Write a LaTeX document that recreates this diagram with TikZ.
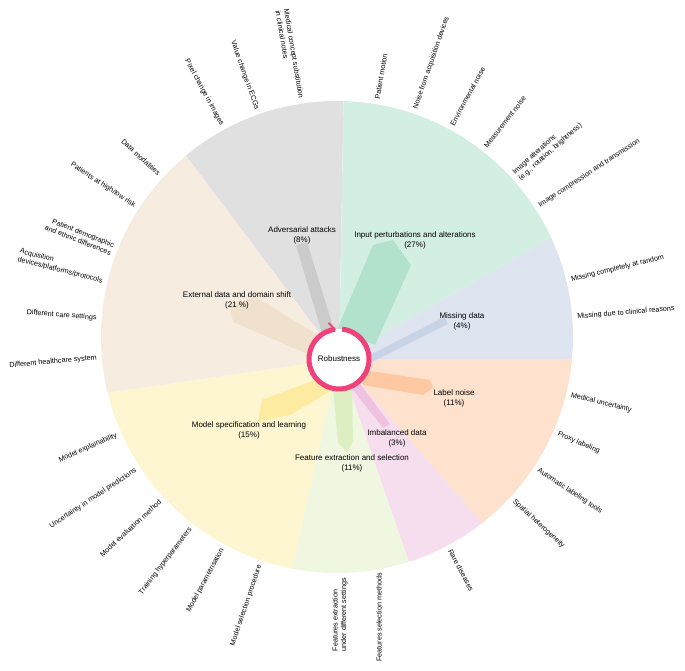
\documentclass[tikz,border=0pt]{standalone}
\usepackage{fontspec}
\setmainfont{Liberation Sans}
\usetikzlibrary{arrows.meta,calc}
\definecolor{sGray}{HTML}{E0E0E0}\definecolor{aGray}{HTML}{CBCBCB}
\definecolor{sGreen}{HTML}{D3EFE2}\definecolor{aGreen}{HTML}{B2E2CC}
\definecolor{sBlue}{HTML}{DFE4F1}\definecolor{aBlue}{HTML}{C9D3E6}
\definecolor{sOrange}{HTML}{FEE2CE}\definecolor{aOrange}{HTML}{FDC8A2}
\definecolor{sPink}{HTML}{F6DEEE}\definecolor{aPink}{HTML}{EFC3E0}
\definecolor{sLGreen}{HTML}{EFF7E0}\definecolor{aLGreen}{HTML}{DDEFC2}
\definecolor{sYellow}{HTML}{FEF6D1}\definecolor{aYellow}{HTML}{FCEBA0}
\definecolor{sBeige}{HTML}{F6ECE0}\definecolor{aBeige}{HTML}{EFE1CB}
\definecolor{robust}{HTML}{F0417A}
\tikzset{
 inlab/.style={font=\fontsize{8}{10}\selectfont, align=center, inner sep=1pt},
 outR/.style={font=\fontsize{7.2}{8.6}\selectfont, anchor=west, inner sep=0pt, align=left},
 outL/.style={font=\fontsize{7.2}{8.6}\selectfont, anchor=east, inner sep=0pt},
}
\newcommand{\sector}[3]{\fill[#1] (P) -- ($(P)+(#2:420)$) arc[start angle=#2, end angle=#3, radius=420] -- cycle;}
\newcommand{\rlab}[3]{\node[outR, rotate=#1] (#3) at ($(O)+(#1:241)$) {#2};}
\newcommand{\llab}[4]{\node[outL, rotate=#1-180, align=#3] (#4) at ($(O)+(#1:241)$) {#2};}
\begin{document}
\begin{tikzpicture}[x=1pt,y=1pt]
\useasboundingbox (0,0) rectangle (685,671);
\coordinate (O) at (337,334);
\coordinate (P) at (339,312);
\begin{scope}
\clip (O) circle (236);
\sector{sGray}{89}{127}
\sector{sGreen}{29.8}{89}
\sector{sBlue}{0}{29.8}
\sector{sOrange}{-48.9}{0}
\sector{sPink}{-71}{-48.9}
\sector{sLGreen}{-102.6}{-71}
\sector{sYellow}{-171.7}{-102.6}
\sector{sBeige}{127}{188.3}
\end{scope}
% bands
\fill[aGray] (296,426) -- (307,429) -- (334,341) -- (322,338) -- cycle;
\fill[aGreen] (337,341) -- (373,426) -- (393,431) -- (411,406) -- (375,326) -- cycle;
\fill[aBeige] (233,349) -- (230,366) -- (255,374) -- (318,336) -- (310,316) -- cycle;
\fill[aBlue] (370,316) -- (444,354) -- (448,347) -- (370,308) -- cycle;
\fill[aOrange] (363,301) -- (430,291) -- (433,283) -- (423,276) -- (363,286) -- cycle;
\fill[aPink] (350,285) -- (383,243) -- (390,247) -- (358,290) -- cycle;
\fill[aLGreen] (333,283) -- (352,283) -- (353,231) -- (347,218) -- (338,229) -- cycle;
\fill[aYellow] (320,293) -- (262,271) -- (258,249) -- (290,256) -- (332,281) -- cycle;
% center
\node[circle, fill=white, minimum size=60pt, inner sep=0pt, font=\fontsize{8}{10}\selectfont] (rob) at (P) {Robustness};
\draw[robust, line width=5pt] ($(P)+(84:30)$) arc[start angle=84, end angle=-262, radius=30];
\draw[robust, line width=1.8pt, line cap=round, line join=round] ($(P)+(98:30)+(-6,6)$) -- ($(P)+(98:30)$) -- ($(P)+(98:30)+(-7,-4)$);
% inner labels
\node[inlab] (adv) at (302,436) {Adversarial attacks\\(8\%)};
\node[inlab] (inp) at (415,431) {Input perturbations and alterations\\(27\%)};
\node[inlab] (ext) at (237,371) {External data and domain shift\\(21 \%)};
\node[inlab] (mis) at (462,350) {Missing data\\(4\%)};
\node[inlab] (lab) at (454,273) {Label noise\\(11\%)};
\node[inlab] (imb) at (397,233) {Imbalanced data\\(3\%)};
\node[inlab] (fea) at (352,208) {Feature extraction and selection\\(11\%)};
\node[inlab] (mod) at (249,241) {Model specification and learning\\(15\%)};
% outer labels right
\rlab{80.4}{Patient motion}{r1}
\rlab{71}{Noise from acquisition devices}{r2}
\rlab{61.5}{Environmental noise}{r3}
\rlab{52}{Measurement noise}{r4}
\rlab{41.8}{Image alterations\\(e.g., rotation, brightness)}{r5}
\rlab{33}{Image compression and transmission}{r6}
\rlab{13.7}{Missing completely at random}{r7}
\rlab{4.8}{Missing due to clinical reasons}{r8}
\rlab{-14}{Medical uncertainty}{r9}
\rlab{-23.6}{Proxy labeling}{r10}
\rlab{-33.5}{Automatic labeling tools}{r11}
\rlab{-42.8}{Spatial heterogeneity}{r12}
\rlab{-62}{Rare diseases}{r13}
% outer labels left
\llab{99.5}{Medical concept substitution\\in clinical notes}{left}{l1}
\llab{109.4}{Value change in ECGs}{right}{l2}
\llab{118.5}{Pixel change in images}{right}{l3}
\llab{137.5}{Data modalities}{right}{l4}
\llab{147}{Patients at high/low risk}{right}{l5}
\llab{158.6}{Patient demographic\\and ethnic differences}{right}{l6}
\llab{165.6}{Acquisition\\devices/platforms/protocols}{left}{l7}
\llab{175.5}{Different care settings}{right}{l8}
\llab{185}{Different healthcare system}{right}{l9}
\llab{204}{Model explainability}{right}{l10}
\llab{213.5}{Uncertainty in model predictions}{right}{l11}
\llab{222.8}{Model evaluation method}{right}{l12}
\llab{232.6}{Training hyperparameters}{right}{l13}
\llab{241.6}{Model parametrisation}{right}{l14}
\llab{251.3}{Model selection procedure}{right}{l15}
\node[outL, rotate=90, align=left] (l16) at (340,93) {Features extraction\\under different settings};
\node[outL, rotate=90] (l17) at (379,98) {Features selection methods};
\end{tikzpicture}
\end{document}
